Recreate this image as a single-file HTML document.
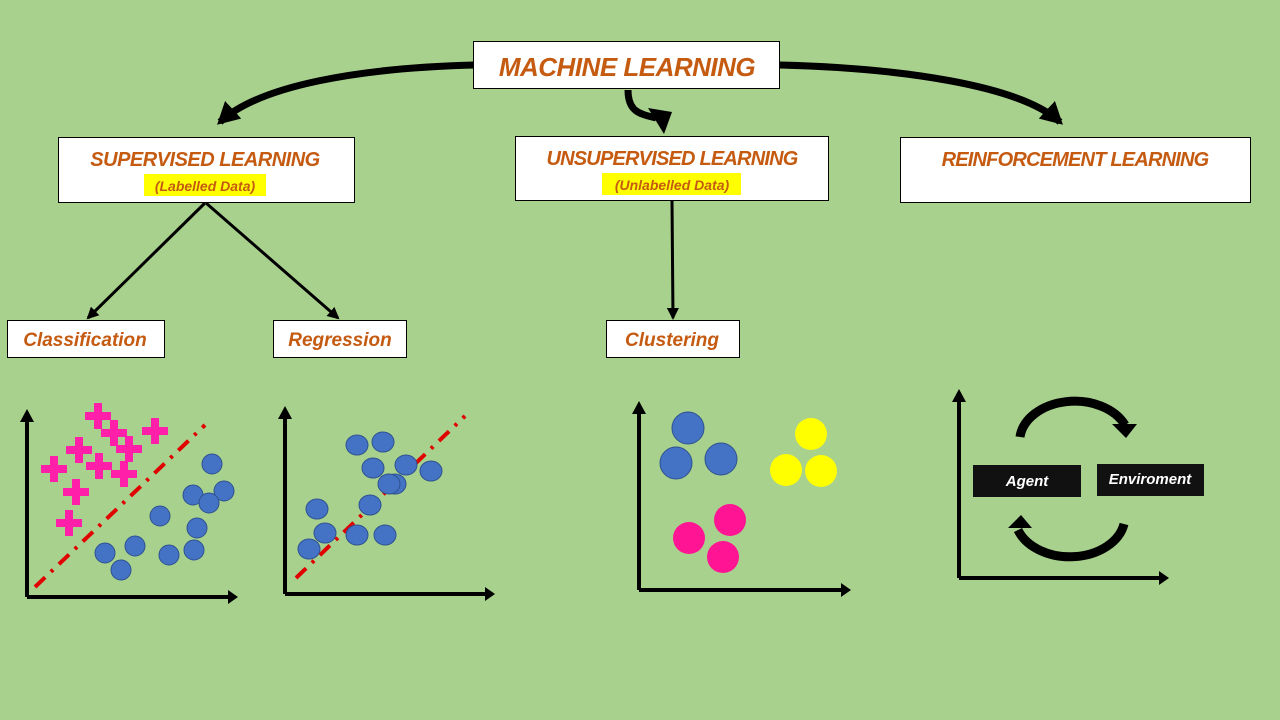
<!DOCTYPE html>
<html><head><meta charset="utf-8"><style>
html,body{margin:0;padding:0;width:1280px;height:720px;overflow:hidden;background:#a9d18e}
svg{display:block}
text{font-family:"Liberation Sans",sans-serif;font-style:italic;font-weight:bold}
.t{fill:#c55a11}
</style></head><body>
<svg width="1280" height="720" viewBox="0 0 1280 720" xmlns="http://www.w3.org/2000/svg">
<defs>
<marker id="ah" markerWidth="12" markerHeight="12" refX="10" refY="6" orient="auto" markerUnits="userSpaceOnUse"><path d="M0,0 L12,6 L0,12 z" fill="#000"/></marker>
<marker id="bh" markerWidth="22" markerHeight="24" refX="18" refY="12" orient="auto" markerUnits="userSpaceOnUse"><path d="M0,0 L22,12 L0,24 z" fill="#000"/></marker>
</defs>
<rect width="1280" height="720" fill="#a9d18e"/>
<!-- top curved arrows -->
<path d="M474,65 C360,68 260,85 220,122" stroke="#000" stroke-width="7" fill="none" marker-end="url(#bh)"/>
<path d="M780,65 C900,68 1020,85 1060,122" stroke="#000" stroke-width="7" fill="none" marker-end="url(#bh)"/>
<path d="M628,90 C628,112 640,114 656,118" stroke="#000" stroke-width="7" fill="none"/>
<path d="M648,108 L672,112 L664,134z" fill="#000"/>
<!-- boxes -->
<rect x="473.5" y="41.5" width="306" height="47" fill="#fff" stroke="#000"/>
<text x="627" y="76" class="t" font-size="26" text-anchor="middle" letter-spacing="-0.5">MACHINE LEARNING</text>
<rect x="58.5" y="137.5" width="296" height="65" fill="#fff" stroke="#000"/>
<text x="205" y="166" class="t" font-size="20" text-anchor="middle" letter-spacing="-0.5">SUPERVISED LEARNING</text>
<rect x="144" y="174" width="122" height="22" fill="#ffff00"/>
<text x="205" y="191" class="t" font-size="14" text-anchor="middle">(Labelled Data)</text>
<rect x="515.5" y="136.5" width="313" height="64" fill="#fff" stroke="#000"/>
<text x="672" y="165" class="t" font-size="20" text-anchor="middle" letter-spacing="-0.8">UNSUPERVISED LEARNING</text>
<rect x="602" y="173" width="139" height="22" fill="#ffff00"/>
<text x="672" y="190" class="t" font-size="14" text-anchor="middle">(Unlabelled Data)</text>
<rect x="900.5" y="137.5" width="350" height="65" fill="#fff" stroke="#000"/>
<text x="1075" y="166" class="t" font-size="20" text-anchor="middle" letter-spacing="-0.8">REINFORCEMENT LEARNING</text>
<!-- thin arrows -->
<line x1="205" y1="203" x2="88" y2="318" stroke="#000" stroke-width="3" marker-end="url(#ah)"/>
<line x1="206" y1="203" x2="338" y2="318" stroke="#000" stroke-width="3" marker-end="url(#ah)"/>
<line x1="672" y1="201" x2="673" y2="318" stroke="#000" stroke-width="3" marker-end="url(#ah)"/>
<rect x="7.5" y="320.5" width="157" height="37" fill="#fff" stroke="#000"/>
<text x="85" y="346" class="t" font-size="19" text-anchor="middle">Classification</text>
<rect x="273.5" y="320.5" width="133" height="37" fill="#fff" stroke="#000"/>
<text x="340" y="346" class="t" font-size="19" text-anchor="middle">Regression</text>
<rect x="606.5" y="320.5" width="133" height="37" fill="#fff" stroke="#000"/>
<text x="672" y="346" class="t" font-size="19" text-anchor="middle">Clustering</text>
<!-- axes -->
<g stroke="#000" stroke-width="4" fill="none">
<path d="M27,597 V420 M27,597 H230"/>
<path d="M285,594 V417 M285,594 H487"/>
<path d="M639,590 V412 M639,590 H843"/>
<path d="M959,578 V400 M959,578 H1161"/>
</g>
<g fill="#000">
<path d="M20,422 L27,409 L34,422z M228,590 L238,597 L228,604z"/>
<path d="M278,419 L285,406 L292,419z M485,587 L495,594 L485,601z"/>
<path d="M632,414 L639,401 L646,414z M841,583 L851,590 L841,597z"/>
<path d="M952,402 L959,389 L966,402z M1159,571 L1169,578 L1159,585z"/>
</g>
<!-- red dash-dot lines -->
<line x1="35" y1="587" x2="205" y2="425" stroke="#e00000" stroke-width="4" stroke-dasharray="14,8,3,8"/>
<line x1="296" y1="578" x2="465" y2="416" stroke="#e00000" stroke-width="4" stroke-dasharray="14,8,3,8"/>
<!-- pluses -->
<g fill="#ff1fa8">
<path id="p" d="M-4,-13h8v9h9v8h-9v9h-8v-9h-9v-8h9z" transform="translate(98,416)"/>
<use href="#p" transform="translate(16,17)"/>
<use href="#p" transform="translate(57,15)"/>
<use href="#p" transform="translate(-19,34)"/>
<use href="#p" transform="translate(31,33)"/>
<use href="#p" transform="translate(-44,53)"/>
<use href="#p" transform="translate(1,50)"/>
<use href="#p" transform="translate(26,58)"/>
<use href="#p" transform="translate(-22,76)"/>
<use href="#p" transform="translate(-29,107)"/>
</g>
<!-- blue circles -->
<g fill="#4472c4" stroke="#2f528f" stroke-width="1">
<ellipse cx="212" cy="464" rx="10" ry="10"/><ellipse cx="193" cy="495" rx="10" ry="10"/>
<ellipse cx="224" cy="491" rx="10" ry="10"/><ellipse cx="209" cy="503" rx="10" ry="10"/>
<ellipse cx="160" cy="516" rx="10" ry="10"/><ellipse cx="197" cy="528" rx="10" ry="10"/>
<ellipse cx="135" cy="546" rx="10" ry="10"/><ellipse cx="105" cy="553" rx="10" ry="10"/>
<ellipse cx="121" cy="570" rx="10" ry="10"/><ellipse cx="169" cy="555" rx="10" ry="10"/>
<ellipse cx="194" cy="550" rx="10" ry="10"/>
<ellipse cx="357" cy="445" rx="11" ry="10"/><ellipse cx="383" cy="442" rx="11" ry="10"/>
<ellipse cx="373" cy="468" rx="11" ry="10"/><ellipse cx="406" cy="465" rx="11" ry="10"/>
<ellipse cx="431" cy="471" rx="11" ry="10"/><ellipse cx="395" cy="484" rx="11" ry="10"/>
<ellipse cx="389" cy="484" rx="11" ry="10"/><ellipse cx="370" cy="505" rx="11" ry="10"/>
<ellipse cx="317" cy="509" rx="11" ry="10"/><ellipse cx="325" cy="533" rx="11" ry="10"/>
<ellipse cx="357" cy="535" rx="11" ry="10"/><ellipse cx="385" cy="535" rx="11" ry="10"/>
<ellipse cx="309" cy="549" rx="11" ry="10"/>
<circle cx="688" cy="428" r="16"/><circle cx="676" cy="463" r="16"/><circle cx="721" cy="459" r="16"/>
</g>
<g fill="#ffff00"><circle cx="811" cy="434" r="16"/><circle cx="786" cy="470" r="16"/><circle cx="821" cy="471" r="16"/></g>
<g fill="#ff1493"><circle cx="730" cy="520" r="16"/><circle cx="689" cy="538" r="16"/><circle cx="723" cy="557" r="16"/></g>
<!-- RL -->
<path d="M1020,437 A55,40 0 0 1 1125,425" stroke="#000" stroke-width="9" fill="none"/>
<path d="M1112,424 L1137,424 L1126,438z" fill="#000"/>
<path d="M1124,524 A55,40 0 0 1 1018,530" stroke="#000" stroke-width="9" fill="none"/>
<path d="M1008,528 L1032,528 L1021,515z" fill="#000"/>
<rect x="973" y="465" width="108" height="32" fill="#111"/>
<text x="1027" y="486" fill="#fff" font-size="15" text-anchor="middle">Agent</text>
<rect x="1097" y="464" width="107" height="32" fill="#111"/>
<text x="1150" y="484" fill="#fff" font-size="15" text-anchor="middle">Enviroment</text>
</svg>
</body></html>
